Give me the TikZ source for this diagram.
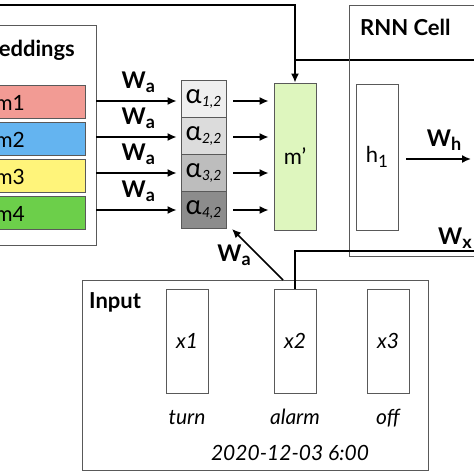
\documentclass[tikz,border=0pt]{standalone}
\usepackage{fontspec}
\setmainfont{Lato}
\usetikzlibrary{arrows.meta}
\definecolor{cm1}{HTML}{F29B94}
\definecolor{cm2}{HTML}{64B4F0}
\definecolor{cm3}{HTML}{FFF47A}
\definecolor{cm4}{HTML}{6CCF4A}
\definecolor{cmp}{HTML}{DEF6BE}
\definecolor{ca1}{HTML}{EFEFEF}
\definecolor{ca2}{HTML}{DCDCDC}
\definecolor{ca3}{HTML}{BDBDBD}
\definecolor{ca4}{HTML}{8C8C8C}
\newcommand{\Wlab}[1]{W\raisebox{-4pt}{\fontsize{18}{18}\selectfont #1}}
\newcommand{\alab}[1]{{\fontsize{27}{27}\selectfont α}\kern0.5pt{\fontsize{14}{14}\selectfont\itshape\raisebox{-3pt}{#1}}}
\begin{document}
\begin{tikzpicture}[x=1pt,y=-1pt,
  box/.style={draw=black!65, line width=0.8pt, inner sep=0pt},
  bar/.style={box, minimum width=100pt, minimum height=33pt},
  abox/.style={box, minimum width=45pt, minimum height=37pt, font=\fontsize{22}{22}\selectfont},
  vbox/.style={box, minimum width=42pt},
  wire/.style={line width=1.6pt},
  conn/.style={wire, -{Latex[length=9pt,width=8pt]}},
  wl/.style={font=\fontsize{23}{23}\selectfont\bfseries, inner sep=0pt},
  title/.style={font=\fontsize{22}{22}\selectfont\bfseries, inner sep=0pt},
  txt/.style={font=\fontsize{21}{21}\selectfont, inner sep=0pt},
  itx/.style={font=\fontsize{21}{21}\selectfont\itshape, inner sep=0pt},
]
\useasboundingbox (0,0) rectangle (474,474);
\clip (0,0) rectangle (474,474);

% Embeddings box
\node[box, minimum width=126pt, minimum height=220pt] (emb) at (33,135) {};
\node[title, anchor=base east] (embt) at (75,56) {Embeddings};
\node[bar, fill=cm1] (m1) at (35,101.5) {};
\node[bar, fill=cm2] (m2) at (35,138.5) {};
\node[bar, fill=cm3] (m3) at (35,175.5) {};
\node[bar, fill=cm4] (m4) at (35,212.5) {};
\node[txt, anchor=base east] (m1t) at (25,110) {m1};
\node[txt, anchor=base east] (m2t) at (25,147) {m2};
\node[txt, anchor=base east] (m3t) at (25,184) {m3};
\node[txt, anchor=base east] (m4t) at (25,221) {m4};

% alpha boxes
\node[abox, fill=ca1] (a1) at (203.5,98.5) {\alab{1,2}};
\node[abox, fill=ca2] (a2) at (203.5,135.5) {\alab{2,2}};
\node[abox, fill=ca3] (a3) at (203.5,172.5) {\alab{3,2}};
\node[abox, fill=ca4] (a4) at (203.5,210) {\alab{4,2}};

% m' box
\node[vbox, fill=cmp, minimum height=147pt, font=\fontsize{22}{22}\selectfont] (mp) at (295,156.5) {m’};

% arrows embeddings -> alpha
\foreach \i/\y in {1/101,2/137,3/173,4/210}{
  \coordinate (e\i) at (96,\y);
  \draw[conn, shorten >=4pt] (e\i) -- (a\i.west |- e\i) node[wl, midway, yshift=19pt] {\Wlab{a}};
  \draw[conn, shorten <=7pt, shorten >=5pt] (a\i.east |- e\i) -- (mp.west |- e\i);
}

% top line into m'
\coordinate (tl) at (-5,5);
\draw[conn] (tl) -| (mp.north);
\coordinate (j1) at (295,60);
\coordinate (rr) at (480,60);
\draw[wire] (j1) -- (rr);

% RNN cell
\node[box, minimum width=141pt, minimum height=251pt] (rnn) at (419.5,130.5) {};
\node[title, anchor=base west] (rnnt) at (360,35) {RNN Cell};
\node[vbox, minimum height=146pt, font=\fontsize{22}{22}\selectfont] (h1) at (377,157) {h\raisebox{-5pt}{\fontsize{17}{17}\selectfont 1}};
\coordinate (hs) at (406,159);
\coordinate (he) at (471,159);
\draw[conn] (hs) -- (he);
\node[wl] (wh) at (444,140) {\Wlab{h}};

% Input box
\node[box, minimum width=346pt, minimum height=190pt] (inp) at (255,375) {};
\node[title, anchor=base west] (inpt) at (89,308) {Input};
\node[vbox, minimum height=104pt] (x1) at (187,341) {};
\node[vbox, minimum height=104pt] (x2) at (295,341) {};
\node[vbox, minimum height=104pt] (x3) at (388,341) {};
\node[itx] at (x1) {x1};
\node[itx] at (x2) {x2};
\node[itx] at (x3) {x3};
\node[itx, anchor=base] (w1) at (187,424) {turn};
\node[itx, anchor=base] (w2) at (295,424) {alarm};
\node[itx, anchor=base] (w3) at (388,424) {off};
\node[itx, anchor=base] (date) at (290,460) {2020-12-03 6:00};

% W_x line
\coordinate (wxe) at (480,251);
\draw[wire] (x2.north) |- (wxe);
\node[wl] (wx) at (455,238) {\Wlab{x}};

% diagonal W_a
\coordinate (ds) at (283,280);
\coordinate (dt) at (232,229);
\draw[conn] (ds) -- (dt);
\node[wl] (wad) at (234,255) {\Wlab{a}};
\end{tikzpicture}
\end{document}
